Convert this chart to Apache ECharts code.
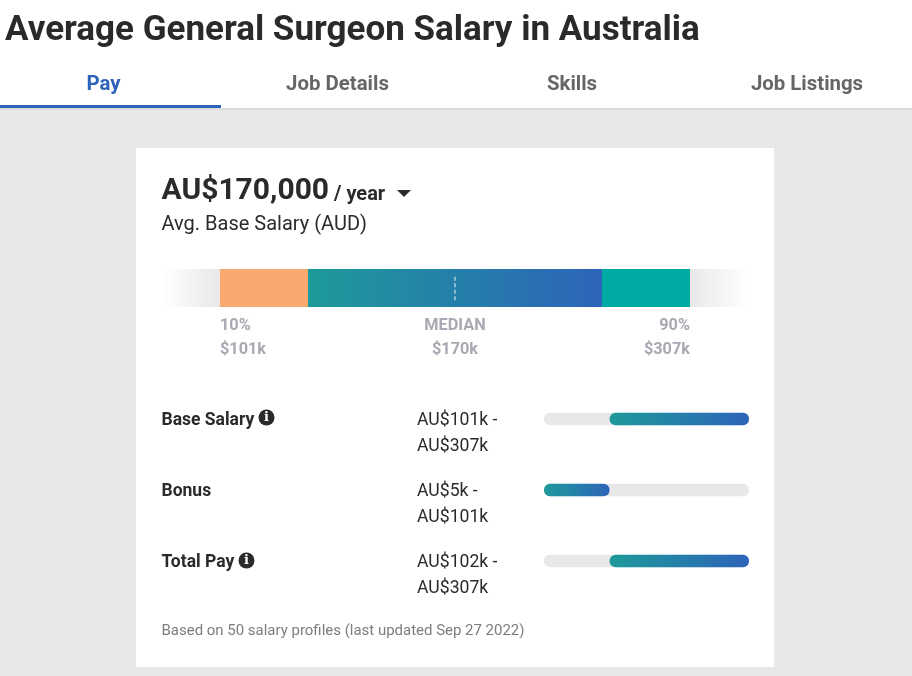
<!DOCTYPE html>
<html><head><meta charset="utf-8">
<style>html,body{margin:0;padding:0;background:#fff}#c{width:912px;height:676px}</style>
<script src="https://cdn.jsdelivr.net/npm/echarts@6/dist/echarts.min.js"></script>
</head><body><div id="c"></div>
<script>
const pageTitle = 'Average General Surgeon Salary in Australia';
const tabs = ['Pay','Job Details','Skills','Job Listings'];
const headline = 'AU$170,000';
const headlineUnit = '/ year';
const subtitle = 'Avg. Base Salary (AUD)';
const footnote = 'Based on 50 salary profiles (last updated Sep 27 2022)';

// Percentile band: [from percentile, to percentile]
const fadeLeft = [0, 10];
const orangeBand = [10, 25];
const middleBand = [25, 75];
const tealBand = [75, 90];
const fadeRight = [90, 100];
const medianPercentile = 50;
const percentileTop = ['10%','MEDIAN','90%'];
const percentileBottom = ['$101k','$170k','$307k'];

// Range rows: share of the track
const rowNames = ['Base Salary','Bonus','Total Pay'];
const rowRangeLow = ['AU$101k -','AU$5k -','AU$102k -'];
const rowRangeHigh = ['AU$307k','AU$101k','AU$307k'];
const rangeStart = [32, 0, 32];
const rangeLength = [68, 32, 68];
const trackFull = [100, 100, 100];

const FONT = 'Roboto';
const DARK = '#2b2a29', GRAY = '#a9a7b1', TAB = '#666666', BLUE = '#2d64b9';
const blueTeal = () => new echarts.graphic.LinearGradient(0,0,1,0,[{offset:0,color:'#1d9a9a'},{offset:1,color:BLUE}]);

const txt = (x,y,text,size,weight,fill,align) => ({type:'text',z:5,x,y,style:{text,fontFamily:FONT,fontSize:size,fontWeight:weight,fill,align:align||'left',verticalAlign:'middle'}});
const tabX = [103.5,337.5,572,807];

const graphic = [
  {type:'rect',z:-10,shape:{x:0,y:110,width:912,height:566},style:{fill:'#e8e8ea'}},
  {type:'rect',z:-9,shape:{x:0,y:108,width:912,height:2},style:{fill:'#dcdcde'}},
  {type:'rect',z:-8,shape:{x:0,y:105,width:221,height:3},style:{fill:BLUE}},
  {type:'rect',z:-7,shape:{x:136,y:148,width:638,height:519},style:{fill:'#fff'}},
  txt(5,31,pageTitle,35,'bold',DARK),
  ...tabs.map((t,i)=>txt(tabX[i],85,t,20.4,'bold',i===0?BLUE:TAB,'center')),
  txt(161.5,191,headline,30,'bold',DARK),
  txt(334,195,headlineUnit,20,'bold',DARK),
  {type:'polygon',z:5,shape:{points:[[397,190],[411,190],[404,197]]},style:{fill:DARK}},
  txt(161.5,225,subtitle,20,'400',DARK),
  ...[[220,'left'],[455,'center'],[690,'right']].flatMap(([x,a],i)=>[
    txt(x,326,percentileTop[i],16.3,'bold',GRAY,a),
    txt(x,350,percentileBottom[i],16.3,'bold',GRAY,a)
  ]),
  ...rowNames.map((n,i)=>txt(161.5,420.5+71*i,n,17.5,'bold',DARK)),
  ...rowNames.flatMap((n,i)=>[
    txt(417,420.5+71*i,rowRangeLow[i],17.6,'400',DARK),
    txt(417,447+71*i,rowRangeHigh[i],17.6,'400',DARK)
  ]),
  ...[[266.5,417.5],[246.5,560.5]].flatMap(([x,y])=>[
    {type:'circle',z:5,shape:{cx:x,cy:y,r:8},style:{fill:DARK}},
    {type:'text',z:6,x,y,style:{text:'i',fontFamily:'DejaVu Serif',fontWeight:'bold',fontSize:13,fill:'#fff',align:'center',verticalAlign:'middle'}}
  ]),
  txt(161.5,631,footnote,14.97,'400','#7d7d80')
];

const bands = [
  {r:fadeLeft, c:()=>new echarts.graphic.LinearGradient(0,0,1,0,[{offset:0,color:'#ffffff'},{offset:1,color:'#e8e8ea'}])},
  {r:orangeBand, c:()=>'#f9a870'},
  {r:middleBand, c:blueTeal},
  {r:tealBand, c:()=>'#00aba3'},
  {r:fadeRight, c:()=>new echarts.graphic.LinearGradient(0,0,1,0,[{offset:0,color:'#e8e8ea'},{offset:1,color:'#ffffff'}])}
];

const option = {
  animation:false,
  graphic:{elements:graphic},
  grid:[
    {left:161.5,width:587,top:269,height:38},
    {left:544,width:205,top:383.5,height:213}
  ],
  xAxis:[
    {gridIndex:0,type:'value',min:0,max:100,show:false},
    {gridIndex:1,type:'value',min:0,max:100,show:false}
  ],
  yAxis:[
    {gridIndex:0,type:'value',min:0,max:1,show:false},
    {gridIndex:1,type:'category',inverse:true,data:rowNames,show:false}
  ],
  series:[
    {type:'custom',xAxisIndex:0,yAxisIndex:0,z:2,silent:true,
      data:bands.map(b=>b.r),
      encode:{x:[0,1]},
      renderItem:(p,api)=>{
        const a=api.coord([api.value(0),1]), b=api.coord([api.value(1),0]);
        const x0=Math.round(a[0]), x1=Math.round(b[0]);
        return {type:'rect',shape:{x:x0,y:a[1],width:x1-x0,height:b[1]-a[1]},style:{fill:bands[p.dataIndex].c()}};
      }},
    {type:'line',xAxisIndex:0,yAxisIndex:0,z:3,silent:true,symbol:'none',
      data:[[medianPercentile,0.18],[medianPercentile,0.84]],
      lineStyle:{color:'#cfe3ea',width:1.2,type:[4,2.5]}},
    {type:'bar',xAxisIndex:1,yAxisIndex:1,stack:'track',barWidth:12.5,barGap:'-100%',silent:true,z:2,
      data:trackFull,itemStyle:{color:'#e8e8ea',borderRadius:6}},
    {type:'bar',xAxisIndex:1,yAxisIndex:1,stack:'range',barWidth:12.5,silent:true,z:3,
      data:rangeStart,itemStyle:{color:'transparent'}},
    {type:'bar',xAxisIndex:1,yAxisIndex:1,stack:'range',barWidth:12.5,silent:true,z:3,
      data:rangeLength,itemStyle:{color:blueTeal(),borderRadius:6}}
  ]
};
echarts.init(document.getElementById('c')).setOption(option);
</script></body></html>
